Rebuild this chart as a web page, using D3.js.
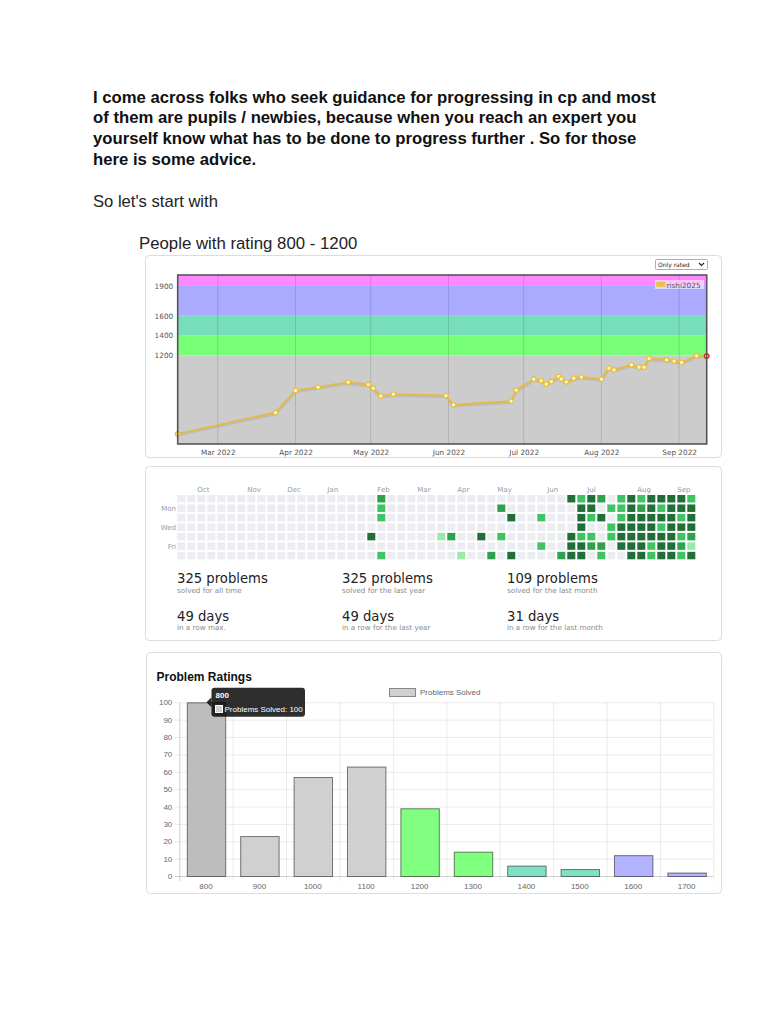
<!DOCTYPE html>
<html><head><meta charset="utf-8">
<script src="https://cdn.jsdelivr.net/npm/d3@7"></script>
<style>html,body{margin:0;padding:0;background:#fff;}svg{display:block}</style>
</head><body>
<svg id="c" width="768" height="1024"></svg>
<script>
// ---------- text ----------
const introLines = [
  "I come across folks who seek guidance for progressing in cp and most",
  "of them are pupils / newbies, because when you reach an expert you",
  "yourself know what has to be done to progress further . So for those",
  "here is some advice."
];
const leadText = "So let's start with";
const sectionTitle = "People with rating 800 - 1200";

// ---------- rating history ----------
const handle = "rishi2025";
const ratingDates = ["2022-02-13","2022-03-24","2022-04-01","2022-04-10","2022-04-22","2022-04-30","2022-05-02","2022-05-05","2022-05-10","2022-05-31","2022-06-03","2022-06-26","2022-06-28","2022-07-05","2022-07-08","2022-07-10","2022-07-12","2022-07-15","2022-07-16","2022-07-18","2022-07-21","2022-07-24","2022-08-01","2022-08-04","2022-08-06","2022-08-13","2022-08-16","2022-08-18","2022-08-20","2022-08-27","2022-08-30","2022-09-02","2022-09-08","2022-09-12"];
const ratingValues = [412,626,848,882,932,908,872,794,811,797,704,741,852,962,948,912,938,989,965,935,972,985,962,1073,1056,1106,1083,1083,1170,1157,1144,1130,1197,1194];
const ratingRange = [310, 2010];
const tierBounds = [1200, 1400, 1600, 1900];
const tierColors = ["#cccccc", "#77ff77", "#77ddbb", "#aaaaff", "#ff88ff"];
const ratingTicks = [1200, 1400, 1600, 1900];
const filterLabel = "Only rated";

// ---------- activity heatmap ----------
const heatWeeks = 52;
const heatMonths = ["Oct","Nov","Dec","Jan","Feb","Mar","Apr","May","Jun","Jul","Aug","Sep"];
const heatMonthCols = [2,7,11,15,20,24,28,32,37,41,46,50];
const dayLabels = ["Mon","Wed","Fri"];
const dayLabelRows = [1,3,5];
const heatColors = ["#ebedf0","#9be9a8","#40c463","#30a14e","#216e39"];
// [week, weekday, level]
const heatCells = [
 [19,4,4],[20,0,3],[20,1,2],[20,2,2],[20,6,2],
 [26,4,1],[27,4,3],[28,6,1],[30,4,4],[31,6,3],[32,1,3],[32,4,2],[33,2,4],[33,6,4],
 [36,2,2],[36,5,2],[38,6,3],
 [39,0,4],[39,4,4],[39,5,4],[39,6,4],
 [40,0,2],[40,1,4],[40,2,4],[40,3,4],[40,4,2],[40,5,4],[40,6,4],
 [41,0,4],[41,1,4],[41,2,2],[41,4,2],[41,5,3],
 [42,0,3],[42,2,4],[42,5,3],[42,6,2],
 [43,1,2],[43,3,2],[43,4,2],
 [44,0,2],[44,1,2],[44,2,2],[44,3,4],[44,4,4],[44,5,4],
 [45,0,4],[45,1,4],[45,2,4],[45,3,4],[45,4,4],[45,5,4],[45,6,4],
 [46,0,2],[46,1,3],[46,2,4],[46,3,4],[46,4,4],[46,5,4],[46,6,4],
 [47,0,4],[47,1,4],[47,2,4],[47,3,4],[47,4,4],[47,5,2],[47,6,2],
 [48,0,4],[48,1,2],[48,2,4],[48,3,2],[48,4,4],[48,5,4],[48,6,4],
 [49,0,4],[49,1,4],[49,2,4],[49,3,4],[49,4,4],[49,5,4],[49,6,4],
 [50,0,4],[50,1,4],[50,2,2],[50,3,4],[50,4,2],[50,5,3],[50,6,2],
 [51,0,2],[51,1,4],[51,2,4],[51,3,4],[51,4,3],[51,5,1],[51,6,4]
];
const statValues = ["325 problems","325 problems","109 problems","49 days","49 days","31 days"];
const statNotes = ["solved for all time","solved for the last year","solved for the last month","in a row max.","in a row for the last year","in a row for the last month"];

// ---------- problem ratings ----------
const barTitle = "Problem Ratings";
const barSeries = "Problems Solved";
const barCategories = ["800","900","1000","1100","1200","1300","1400","1500","1600","1700"];
const barValues = [100,23,57,63,39,14,6,4,12,2];
const barColors = ["#bdbdbd","#d0d0d0","#d0d0d0","#d0d0d0","#80ff80","#80ff80","#80e0c4","#80e0c4","#b3b3ff","#b3b3ff"];
const barTicks = [0,10,20,30,40,50,60,70,80,90,100];
const hoverIndex = 0;

// =====================================================
const svg = d3.select("#c");
svg.append("rect").attr("width",768).attr("height",1024).attr("fill","#fff");

const SANS = "'Liberation Sans', Arial, sans-serif";
const VERD = "'DejaVu Sans', Verdana, sans-serif";

// intro text
svg.append("g").selectAll("text").data(introLines).join("text")
  .attr("x",93).attr("y",(d,i)=>102.5+i*20.7)
  .attr("font-family",SANS).attr("font-weight","bold").attr("font-size",16.7)
  .attr("fill","#111").text(d=>d);
svg.append("text").attr("x",93).attr("y",206.5).attr("font-family",SANS)
  .attr("font-size",16.6).attr("fill","#222").text(leadText);
svg.append("text").attr("x",139).attr("y",249).attr("font-family",SANS)
  .attr("font-size",16.8).attr("fill","#222").text(sectionTitle);

function card(x,y,w,h){
  svg.append("rect").attr("x",x).attr("y",y).attr("width",w).attr("height",h)
    .attr("rx",4).attr("fill","#fff").attr("stroke","#dcdcdc").attr("stroke-width",1);
}

// ---------- rating chart ----------
card(145.5,255.5,576,202);
const rc = {l:177.7, r:706.7, t:275, b:444};
const parse = d3.timeParse("%Y-%m-%d");
const rdates = ratingDates.map(parse);
const xR = d3.scaleTime().domain(d3.extent(rdates)).range([rc.l, rc.r]);
const yR = d3.scaleLinear().domain(ratingRange).range([rc.b, rc.t]);
const gR = svg.append("g");
const bandEdges = [ratingRange[0], ...tierBounds, ratingRange[1]];
gR.selectAll("rect.band").data(tierColors).join("rect")
  .attr("x",rc.l).attr("width",rc.r-rc.l)
  .attr("y",(d,i)=>yR(bandEdges[i+1])).attr("height",(d,i)=>yR(bandEdges[i])-yR(bandEdges[i+1]))
  .attr("fill",d=>d);
const monthTicks = xR.ticks(d3.timeMonth.every(1));
gR.selectAll("line.vg").data(monthTicks).join("line")
  .attr("x1",d=>xR(d)).attr("x2",d=>xR(d)).attr("y1",rc.t).attr("y2",rc.b)
  .attr("stroke","rgba(0,0,0,0.13)").attr("stroke-width",1);
const xAxisR = d3.axisBottom(xR).tickValues(monthTicks).tickFormat(d3.timeFormat("%b %Y")).tickSize(0).tickPadding(6);
const xa = gR.append("g").attr("transform",`translate(0,${rc.b})`).call(xAxisR);
xa.select(".domain").remove();
xa.selectAll("text").attr("font-family",VERD).attr("font-size",7.3).attr("fill","#545454");
const yAxisR = d3.axisLeft(yR).tickValues(ratingTicks).tickFormat(d3.format("d")).tickSize(0).tickPadding(4);
const ya = gR.append("g").attr("transform",`translate(${rc.l-0.5},0)`).call(yAxisR);
ya.select(".domain").remove();
ya.selectAll("text").attr("font-family",VERD).attr("font-size",7.3).attr("fill","#545454");
// line
const line = d3.line().x((d,i)=>xR(rdates[i])).y(d=>yR(d));
gR.append("path").datum(ratingValues).attr("d",line).attr("fill","none")
  .attr("stroke","rgba(0,0,0,0.08)").attr("stroke-width",2.5).attr("transform","translate(0,1.5)");
gR.append("path").datum(ratingValues).attr("d",line).attr("fill","none")
  .attr("stroke","#e3b94a").attr("stroke-width",2).attr("stroke-linejoin","round");
gR.selectAll("circle.pt").data(ratingValues).join("circle")
  .attr("cx",(d,i)=>xR(rdates[i])).attr("cy",d=>yR(d)).attr("r",2.3)
  .attr("fill","#fff6c8").attr("stroke",(d,i)=>i===ratingValues.length-1?"#e02020":"#e8c040").attr("stroke-width",1.3);
// border
gR.append("rect").attr("x",rc.l).attr("y",rc.t).attr("width",rc.r-rc.l).attr("height",rc.b-rc.t)
  .attr("fill","none").attr("stroke","#555").attr("stroke-width",1.6);
// legend
gR.append("rect").attr("x",655).attr("y",280).attr("width",49).attr("height",9).attr("fill","rgba(255,255,255,0.55)");
gR.append("rect").attr("x",656).attr("y",281.5).attr("width",9.5).attr("height",5.5).attr("fill","#edc240").attr("stroke","#ddd").attr("stroke-width",0.5);
gR.append("text").attr("x",666.5).attr("y",287.5).attr("font-family",VERD).attr("font-size",7.3).attr("fill","#545454").text(handle);
// dropdown
gR.append("rect").attr("x",655.5).attr("y",259.5).attr("width",52).attr("height",10).attr("rx",1).attr("fill","#fff").attr("stroke","#999").attr("stroke-width",0.8);
gR.append("text").attr("x",658).attr("y",267).attr("font-family",VERD).attr("font-size",6).attr("fill","#222").text(filterLabel);
gR.append("path").attr("d","M699,263 L701.5,265.5 L704,263").attr("fill","none").attr("stroke","#222").attr("stroke-width",1.1);

// ---------- heatmap ----------
card(145.5,466.5,576,174);
const hc = {l:177.3, t:495, pitchX:10, pitchY:9.47, w:8, h:7.47};
const xH = d3.scaleLinear().domain([0,heatWeeks]).range([hc.l, hc.l+heatWeeks*hc.pitchX]);
const yH = d3.scaleLinear().domain([0,7]).range([hc.t, hc.t+7*hc.pitchY]);
const levelMap = new Map(heatCells.map(c=>[c[0]+"-"+c[1], c[2]]));
const allCells = d3.cross(d3.range(heatWeeks), d3.range(7));
const gH = svg.append("g");
gH.selectAll("rect").data(allCells).join("rect")
  .attr("x",d=>xH(d[0])).attr("y",d=>yH(d[1])).attr("width",hc.w).attr("height",hc.h)
  .attr("fill",d=>heatColors[levelMap.get(d[0]+"-"+d[1])||0]);
gH.selectAll("text.m").data(heatMonths).join("text")
  .attr("x",(d,i)=>xH(heatMonthCols[i])).attr("y",491.5)
  .attr("font-family",VERD).attr("font-size",7).attr("fill","#959da5").text(d=>d);
gH.selectAll("text.d").data(dayLabels).join("text")
  .attr("x",176).attr("y",(d,i)=>yH(dayLabelRows[i])+hc.h-0.5).attr("text-anchor","end")
  .attr("font-family",VERD).attr("font-size",7).attr("fill","#959da5").text(d=>d);
const statX = [177, 342, 507];
gH.selectAll("text.sv").data(statValues).join("text")
  .attr("x",(d,i)=>statX[i%3]).attr("y",(d,i)=>i<3?583.3:620.7)
  .attr("font-family",VERD).attr("font-size",13.2).attr("fill","#222").text(d=>d);
gH.selectAll("text.sn").data(statNotes).join("text")
  .attr("x",(d,i)=>statX[i%3]).attr("y",(d,i)=>i<3?592.6:630)
  .attr("font-family",VERD).attr("font-size",7.2).attr("fill","#8a8a8a").text(d=>d);

// ---------- bar chart ----------
card(146.5,652.5,575,241);
const bc = {l:179.3, r:713.3, t:702.3, b:876};
svg.append("text").attr("x",156.5).attr("y",680.7).attr("font-family",SANS).attr("font-weight","bold")
  .attr("font-size",12).attr("fill","#111").text(barTitle);
const xB = d3.scaleBand().domain(barCategories).range([bc.l, bc.r]).paddingInner(0.28).paddingOuter(0.14);
const xBgrid = d3.scaleLinear().domain([0,barCategories.length]).range([bc.l, bc.r]);
const yB = d3.scaleLinear().domain([0,100]).range([bc.b, bc.t]);
const gB = svg.append("g");
gB.selectAll("line.h").data(barTicks).join("line")
  .attr("x1",bc.l-5).attr("x2",bc.r).attr("y1",d=>yB(d)+0.5).attr("y2",d=>yB(d)+0.5)
  .attr("stroke",d=>d===0?"rgba(0,0,0,0.18)":"rgba(0,0,0,0.08)");
gB.selectAll("line.v").data(d3.range(barCategories.length+1)).join("line")
  .attr("x1",d=>xBgrid(d)+0.5).attr("x2",d=>xBgrid(d)+0.5).attr("y1",bc.t).attr("y2",bc.b+5)
  .attr("stroke",d=>d===0?"rgba(0,0,0,0.18)":"rgba(0,0,0,0.08)");
const yAxB = gB.append("g").attr("transform",`translate(${bc.l-7},0)`)
  .call(d3.axisLeft(yB).tickValues(barTicks).tickSize(0).tickPadding(0));
yAxB.select(".domain").remove();
yAxB.selectAll("text").attr("font-family",SANS).attr("font-size",8).attr("fill","#666");
const xAxB = gB.append("g").attr("transform",`translate(0,${bc.b})`)
  .call(d3.axisBottom(xB).tickSize(0).tickPadding(7));
xAxB.select(".domain").remove();
xAxB.selectAll("text").attr("font-family",SANS).attr("font-size",8).attr("fill","#666");
gB.selectAll("rect.bar").data(barValues).join("rect")
  .attr("x",(d,i)=>xB(barCategories[i])+0.5).attr("width",xB.bandwidth())
  .attr("y",d=>yB(d)+0.5).attr("height",d=>yB(0)-yB(d))
  .attr("fill",(d,i)=>barColors[i]).attr("stroke","rgba(0,0,0,0.5)").attr("stroke-width",1);
// legend
gB.append("rect").attr("x",389.5).attr("y",688.5).attr("width",26).attr("height",8)
  .attr("fill","#d0d0d0").attr("stroke","#888").attr("stroke-width",1);
gB.append("text").attr("x",420).attr("y",695).attr("font-family",SANS).attr("font-size",8).attr("fill","#666").text(barSeries);
// tooltip (anchored to the hovered bar's top centre)
const tipX = xB(barCategories[hoverIndex]) + xB.bandwidth()/2 + 0.5;
const tipY = yB(barValues[hoverIndex]);
const tip = gB.append("g");
tip.append("path").attr("d",`M${tipX},${tipY} L${tipX+5},${tipY-5} L${tipX+5},${tipY+5} Z`).attr("fill","rgba(0,0,0,0.82)");
tip.append("rect").attr("x",tipX+5).attr("y",687.7).attr("width",93.5).attr("height",29).attr("rx",3).attr("fill","rgba(0,0,0,0.82)");
tip.append("text").attr("x",tipX+9).attr("y",697.5).attr("font-family",SANS).attr("font-weight","bold").attr("font-size",8).attr("fill","#fff").text(barCategories[hoverIndex]);
tip.append("rect").attr("x",tipX+9).attr("y",705.5).attr("width",7).attr("height",7).attr("fill","#d0d0d0").attr("stroke","#fff").attr("stroke-width",1);
tip.append("text").attr("x",tipX+18).attr("y",712).attr("font-family",SANS).attr("font-size",8).attr("fill","#fff")
  .text(`${barSeries}: ${barValues[hoverIndex]}`);
</script>
</body></html>
